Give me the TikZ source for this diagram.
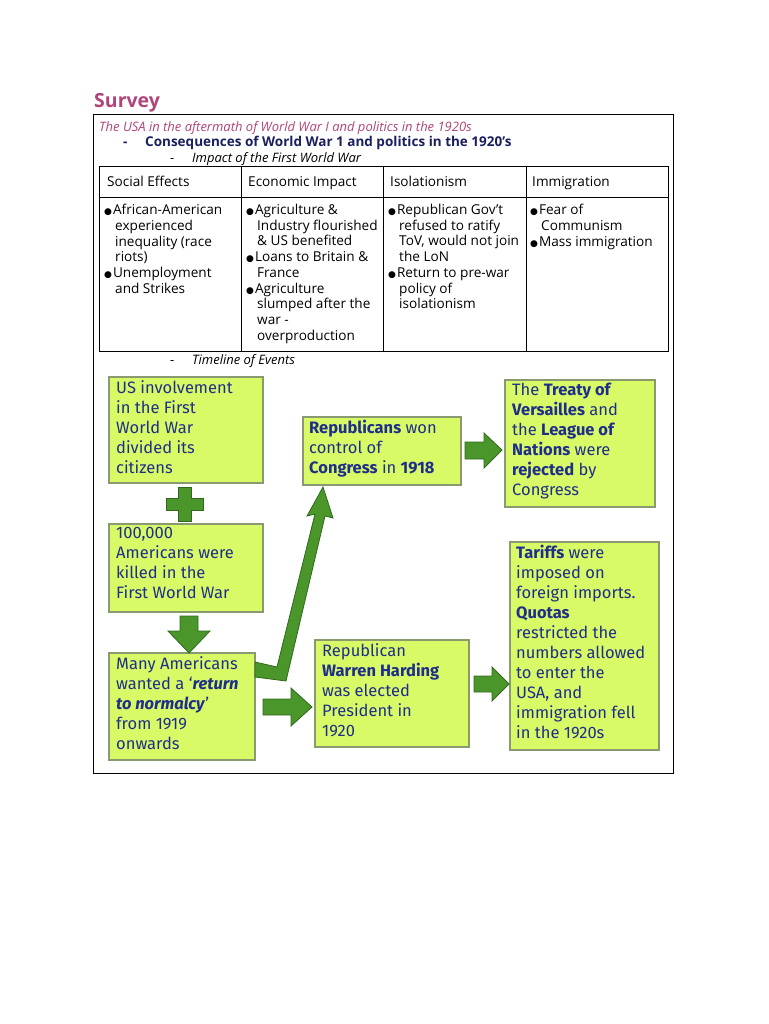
\documentclass[tikz,border=0pt]{standalone}
\usepackage{fontspec}
\setmainfont{Open Sans}
\newfontfamily\boxf{Fira Sans}
\newfontfamily\dv{DejaVu Sans}
\definecolor{ttl}{HTML}{B0457A}
\definecolor{navy}{HTML}{1A1F5E}
\definecolor{bxfill}{HTML}{D8FA66}
\definecolor{bxdraw}{HTML}{8A9A70}
\definecolor{arf}{HTML}{4A962A}
\definecolor{ard}{HTML}{2F6A1A}
\definecolor{btext}{HTML}{1F2E8A}
\newcommand{\bul}{{\dv\fontsize{9}{10}\selectfont ●}\hspace{1pt}}
\newcommand{\ind}{\hspace*{11pt}}
\begin{document}
\begin{tikzpicture}[x=1pt,y=-1pt,
  bx/.style={draw=bxdraw,line width=1.2pt,fill=bxfill},
  bt/.style={anchor=north west,inner sep=0pt,text=btext,font=\boxf\fontsize{16.5}{20}\selectfont,align=left},
  ar/.style={fill=arf,draw=ard,line width=0.8pt,line join=miter},
  cell/.style={anchor=north west,inner sep=0pt,font=\fontsize{13.6}{15.7}\selectfont,align=left},
  hd/.style={anchor=base west,inner sep=0pt,font=\fontsize{13.6}{15}\selectfont}]
\useasboundingbox (0,0) rectangle (768,1024);
\fill[white] (0,0) rectangle (768,1024);
\node[anchor=base west,inner sep=0pt,text=ttl,font=\bfseries\fontsize{19.5}{22}\selectfont] (survey) at (94,108) {Survey};
\draw[line width=0.8pt] (93,114) rectangle (673,773);
\node[anchor=base west,inner sep=0pt,text=ttl,font=\itshape\fontsize{13}{14}\selectfont] (sub) at (99,132) {The USA in the aftermath of World War I and politics in the 1920s};
\node[anchor=base west,inner sep=0pt,text=navy,font=\bfseries\fontsize{13.5}{15}\selectfont] (d1) at (123,147) {-};
\node[anchor=base west,inner sep=0pt,text=navy,font=\bfseries\fontsize{13.5}{15}\selectfont] (cons) at (145,147) {Consequences of World War 1 and politics in the 1920’s};
\node[anchor=base west,inner sep=0pt,font=\fontsize{13}{14}\selectfont] (d2) at (170,163) {-};
\node[anchor=base west,inner sep=0pt,font=\itshape\fontsize{13}{14}\selectfont] (imp) at (192,163) {Impact of the First World War};
% table
\draw[line width=1pt] (99,167) rectangle (668,351);
\draw[line width=0.8pt] (99,197) -- (668,197);
\foreach \x in {241,383,526} \draw[line width=0.8pt] (\x,167) -- (\x,351);
\node[hd] (h1) at (107,187) {Social Effects};
\node[hd] (h2) at (248,187) {Economic Impact};
\node[hd] (h3) at (390,187) {Isolationism};
\node[hd] (h4) at (532,187) {Immigration};
\node[cell] (c1) at (104,204) {\bul African-American\\\ind experienced\\\ind inequality (race\\\ind riots)\\\bul Unemployment\\\ind and Strikes};
\node[cell] (c2) at (246,204) {\bul Agriculture \&\\\ind Industry flourished\\\ind \& US benefited\\\bul Loans to Britain \&\\\ind France\\\bul Agriculture\\\ind slumped after the\\\ind war -\\\ind overproduction};
\node[cell] (c3) at (388,204) {\bul Republican Gov’t\\\ind refused to ratify\\\ind ToV, would not join\\\ind the LoN\\\bul Return to pre-war\\\ind policy of\\\ind isolationism};
\node[cell] (c4) at (530,204) {\bul Fear of\\\ind Communism\\\bul Mass immigration};
\node[anchor=base west,inner sep=0pt,font=\fontsize{13}{14}\selectfont] (d3) at (170,364) {-};
\node[anchor=base west,inner sep=0pt,font=\itshape\fontsize{13}{14}\selectfont] (tl) at (192,364) {Timeline of Events};
% boxes
\draw[bx] (109,377) rectangle (263,483);
\node[bt] (t1) at (116,380) {US involvement\\in the First\\World War\\divided its\\citizens};
\draw[bx] (109,524) rectangle (263,612);
\node[bt] (t2) at (116,527) {100,000\\Americans were\\killed in the\\First World War};
\draw[bx] (109,653) rectangle (255,760);
\node[bt] (t3) at (116,656) {Many Americans\\wanted a ‘\textbf{\textit{return}}\\\textbf{\textit{to normalcy}}’\\from 1919\\onwards};
\draw[bx] (303,417) rectangle (461,485);
\node[bt] (t4) at (309,420) {\textbf{Republicans} won\\control of\\\textbf{Congress} in \textbf{1918}};
\draw[bx] (505,380) rectangle (655,507);
\node[bt] (t5) at (512,383) {The \textbf{Treaty of}\\\textbf{Versailles} and\\the \textbf{League of}\\\textbf{Nations} were\\\textbf{rejected} by\\Congress};
\draw[bx] (315,640) rectangle (469,747);
\node[bt] (t6) at (322,643) {Republican\\\textbf{Warren Harding}\\was elected\\President in\\1920};
\draw[bx] (510,542) rectangle (659,750);
\node[bt] (t7) at (516,545) {\textbf{Tariffs} were\\imposed on\\foreign imports.\\\textbf{Quotas}\\restricted the\\numbers allowed\\to enter the\\USA, and\\immigration fell\\in the 1920s};
% plus
\draw[ar] (178,487) -- (191,487) -- (191,498) -- (203,498) -- (203,510) -- (191,510) -- (191,521) -- (178,521) -- (178,510) -- (166,510) -- (166,498) -- (178,498) -- cycle;
% down arrow
\draw[ar] (180,616) -- (198,616) -- (198,631) -- (210,631) -- (189,653) -- (168,631) -- (180,631) -- cycle;
% right arrows
\draw[ar] (465,442) -- (484,442) -- (484,433) -- (502,450) -- (484,468) -- (484,459) -- (465,459) -- cycle;
\draw[ar] (263,699) -- (291,699) -- (291,688) -- (312,707) -- (291,726) -- (291,715) -- (263,715) -- cycle;
\draw[ar] (474,676) -- (492,676) -- (492,667) -- (509,684) -- (492,701) -- (492,692) -- (474,692) -- cycle;
% bent arrow
\draw[ar] (255,662) -- (277,667) -- (315,514) -- (307,516) -- (323,487) -- (333,518) -- (325,516) -- (286,681) -- (255,677) -- cycle;
\end{tikzpicture}
\end{document}
